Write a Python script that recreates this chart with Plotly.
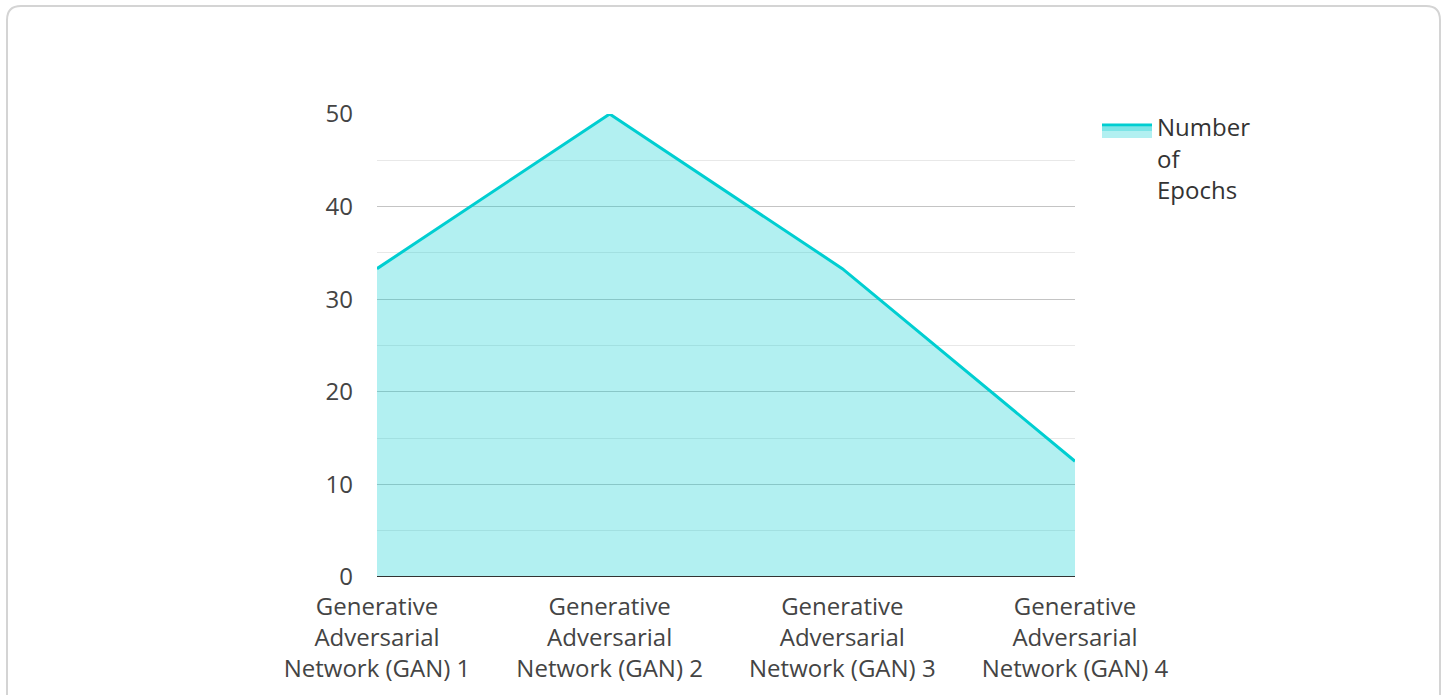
import plotly.graph_objects as go

categories = ["Generative<br>Adversarial<br>Network (GAN) 1",
              "Generative<br>Adversarial<br>Network (GAN) 2",
              "Generative<br>Adversarial<br>Network (GAN) 3",
              "Generative<br>Adversarial<br>Network (GAN) 4"]
epochs = [33.3, 50, 33.3, 12.5]
series_name = "Number<br>of<br>Epochs"

W, H = 1447, 695
L, R, T, B = 377, 1075, 114, 577
pw, ph = R - L, B - T

def px(x):
    return (x - L) / pw

def py(y):
    return (B - y) / ph

fig = go.Figure()
fig.add_trace(go.Scatter(
    x=categories, y=epochs, name=series_name, mode="lines",
    line=dict(color="#00CED1", width=3),
    fill="tozeroy", fillcolor="rgba(0,206,209,0.3)",
))

# rounded card border
x0, y0, x1, y1, r = 7, 6, 1440, 720, 14
path = (f"M {px(x0+r)} {py(y0)} L {px(x1-r)} {py(y0)} Q {px(x1)} {py(y0)} {px(x1)} {py(y0+r)} "
        f"L {px(x1)} {py(y1)} L {px(x0)} {py(y1)} L {px(x0)} {py(y0+r)} "
        f"Q {px(x0)} {py(y0)} {px(x0+r)} {py(y0)} Z")
fig.add_shape(type="path", path=path, xref="paper", yref="paper",
              line=dict(color="#d4d4d4", width=2), fillcolor="rgba(0,0,0,0)", layer="below")
# baseline
fig.add_shape(type="line", xref="paper", yref="y", x0=0, x1=1, y0=0, y1=0,
              line=dict(color="#333", width=2), layer="above")
# legend swatch fill
fig.add_shape(type="rect", xref="paper", yref="paper",
              x0=px(1102), x1=px(1152), y0=py(127), y1=py(138),
              line=dict(width=0), fillcolor="rgba(0,206,209,0.3)", layer="below")

fig.update_layout(
    width=W, height=H,
    margin=dict(l=L, r=W - R, t=T, b=H - B, pad=0, autoexpand=False),
    paper_bgcolor="white", plot_bgcolor="white",
    font=dict(family="Open Sans", size=24, color="#444"),
    showlegend=True,
    legend=dict(x=px(1097), y=py(105), xanchor="left", yanchor="top",
                font=dict(size=24, color="#333"), itemwidth=50, valign="top",
                bgcolor="rgba(0,0,0,0)"),
    xaxis=dict(type="category", range=[0, 3], showgrid=False, showline=False,
               ticks="", tickfont=dict(size=24, color="#444"), ticklabelstandoff=13,
               zeroline=False, automargin=False),
    yaxis=dict(range=[0, 50], dtick=10, showgrid=True, gridcolor="#c4c4c4", gridwidth=1,
               minor=dict(dtick=5, showgrid=True, gridcolor="#e8e8e8", gridwidth=1),
               zeroline=False, automargin=False,
               showline=False, ticks="", tickfont=dict(size=24, color="#444"),
               ticklabelstandoff=23),
)

fig.write_html("out.html")
